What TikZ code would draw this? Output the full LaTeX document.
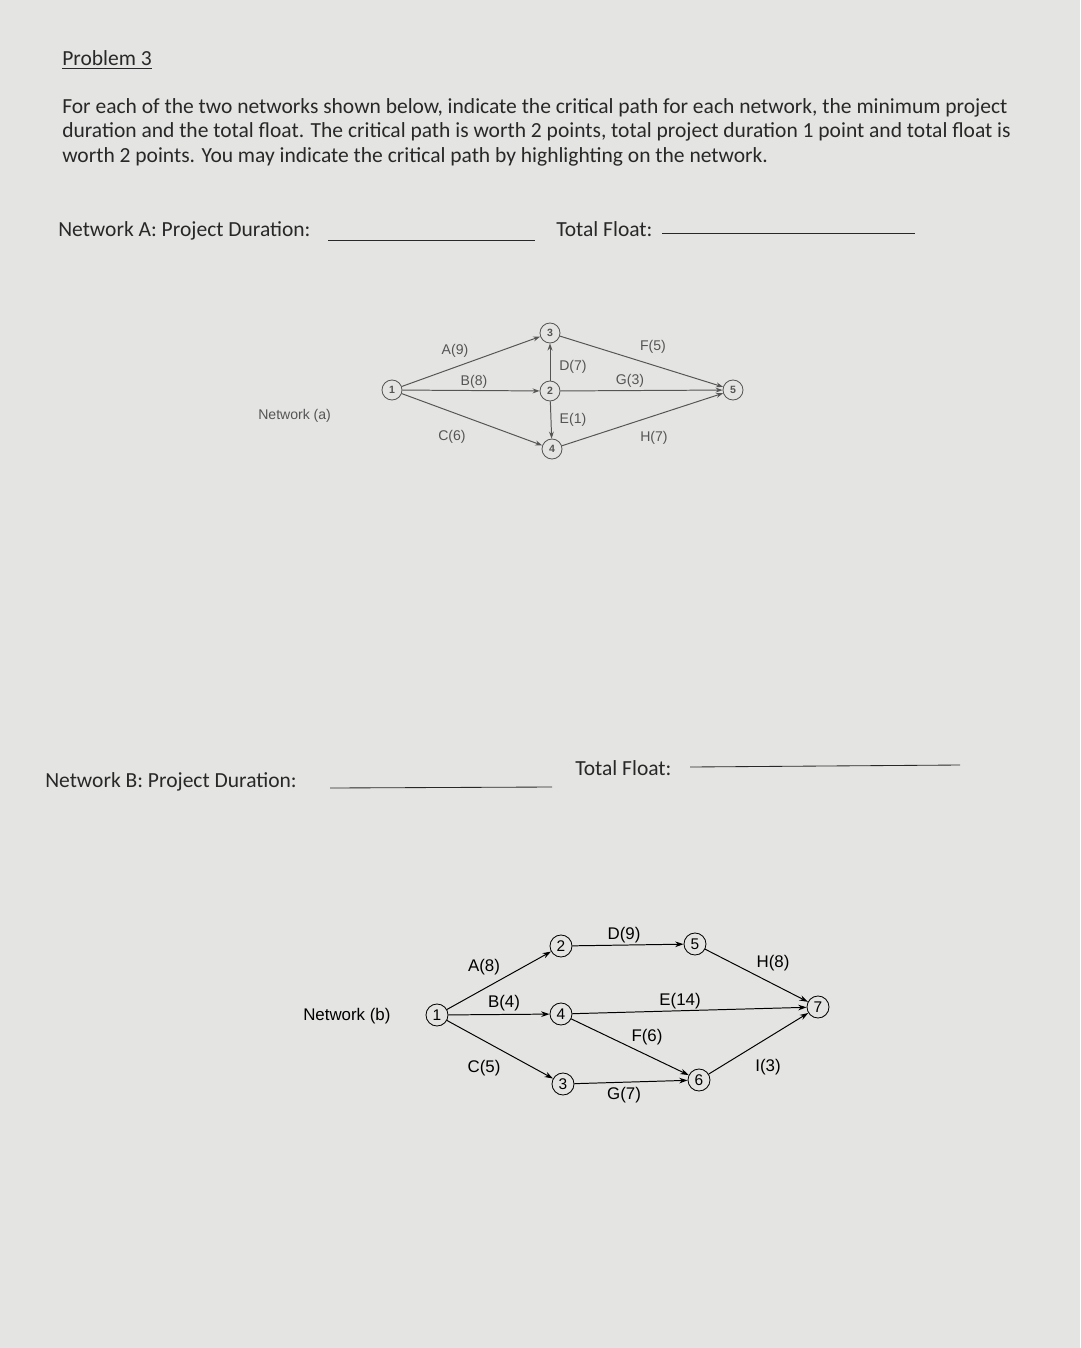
\documentclass[tikz,border=0pt]{standalone}
\usepackage{fontspec}
\setmainfont{Carlito}
\newfontfamily\arialf{Liberation Sans}
\usetikzlibrary{arrows.meta}
\definecolor{paper}{RGB}{228,228,226}
\definecolor{ink}{RGB}{40,40,40}
\definecolor{grayink}{RGB}{85,85,85}
\begin{document}
\begin{tikzpicture}[x=0.025cm,y=-0.025cm,
  body/.style={anchor=west,inner sep=0,text=ink,font=\fontsize{15.3}{18}\selectfont},
  ansline/.style={draw=ink,line width=0.6pt},
  na/.style={circle,draw=grayink,line width=0.6pt,minimum size=20*0.025cm,inner sep=0,font=\arialf\bfseries\fontsize{7.5}{8}\selectfont,text=grayink},
  nb/.style={circle,draw=black,line width=0.6pt,minimum size=22*0.025cm,inner sep=0,font=\arialf\fontsize{11}{12}\selectfont},
  ea/.style={draw=grayink,line width=0.7pt,-{Stealth[length=5pt,width=3.5pt]}},
  eb/.style={draw=black,line width=0.7pt,-{Stealth[length=6pt,width=4pt]}},
  la/.style={font=\arialf\fontsize{10}{11}\selectfont,text=grayink,inner sep=0},
  lb/.style={font=\arialf\fontsize{12}{13}\selectfont,inner sep=0}]
\fill[paper] (0,0) rectangle (1080,1348);
\useasboundingbox (0,0) rectangle (1080,1348);
% header text
\node[body] (title) at (62,60) {\underline{Problem 3}};
\node[body] (p1) at (62,108) {For each of the two networks shown below, indicate the critical path for each network, the minimum project};
\node[body] (p2) at (62,132) {duration and the total float. The critical path is worth 2 points, total project duration 1 point and total float is};
\node[body] (p3) at (62,157) {worth 2 points. You may indicate the critical path by highlighting on the network.};
\node[body] (pa) at (58,231) {Network A: Project Duration:};
\draw[ansline] (328,240) -- (535,240);
\node[body] (tfa) at (556,229) {Total Float:};
\draw[ansline] (662,233) -- (915,233);
\node[body] (pb) at (45,782) {Network B: Project Duration:};
\draw[ansline] (330,788) -- (552,787);
\node[body] (tfb) at (575,768) {Total Float:};
\draw[ansline] (690,767) -- (960,765);
% network (a)
\node[la,anchor=west] (neta) at (258,416) {Network (a)};
\node[na] (a1) at (392,390) {1};
\node[na] (a3) at (550,333) {3};
\node[na] (a2) at (550,391) {2};
\node[na] (a4) at (552,449) {4};
\node[na] (a5) at (733,390) {5};
\draw[ea] (a1) -- (a3);
\draw[ea] (a1) -- (a2);
\draw[ea] (a1) -- (a4);
\draw[ea] (a2) -- (a3);
\draw[ea] (a2) -- (a4);
\draw[ea] (a3) -- (a5);
\draw[ea] (a2) -- (a5);
\draw[ea] (a4) -- (a5);
\node[la] (lA) at (455,351) {A(9)};
\node[la] (lB) at (474,382) {B(8)};
\node[la] (lC) at (452,437) {C(6)};
\node[la] (lD) at (573,367) {D(7)};
\node[la] (lE) at (573,420) {E(1)};
\node[la] (lF) at (653,347) {F(5)};
\node[la] (lG) at (630,381) {G(3)};
\node[la] (lH) at (654,438) {H(7)};
% network (b)
\node[lb,anchor=west] (netb) at (303,1016) {Network (b)};
\node[nb] (b1) at (437,1015) {1};
\node[nb] (b2) at (561,946) {2};
\node[nb] (b4) at (561,1014) {4};
\node[nb] (b3) at (563,1084) {3};
\node[nb] (b5) at (695,944) {5};
\node[nb] (b6) at (699,1080) {6};
\node[nb] (b7) at (818,1007) {7};
\draw[eb] (b1) -- (b2);
\draw[eb] (b1) -- (b4);
\draw[eb] (b1) -- (b3);
\draw[eb] (b2) -- (b5);
\draw[eb] (b4) -- (b7);
\draw[eb] (b4) -- (b6);
\draw[eb] (b3) -- (b6);
\draw[eb] (b5) -- (b7);
\draw[eb] (b6) -- (b7);
\node[lb] (lbA) at (484,967) {A(8)};
\node[lb] (lbB) at (504,1003) {B(4)};
\node[lb] (lbC) at (484,1068) {C(5)};
\node[lb] (lbD) at (624,935) {D(9)};
\node[lb] (lbE) at (680,1001) {E(14)};
\node[lb] (lbF) at (647,1037) {F(6)};
\node[lb] (lbG) at (624,1095) {G(7)};
\node[lb] (lbH) at (773,963) {H(8)};
\node[lb] (lbI) at (768,1067) {I(3)};
\end{tikzpicture}
\end{document}
